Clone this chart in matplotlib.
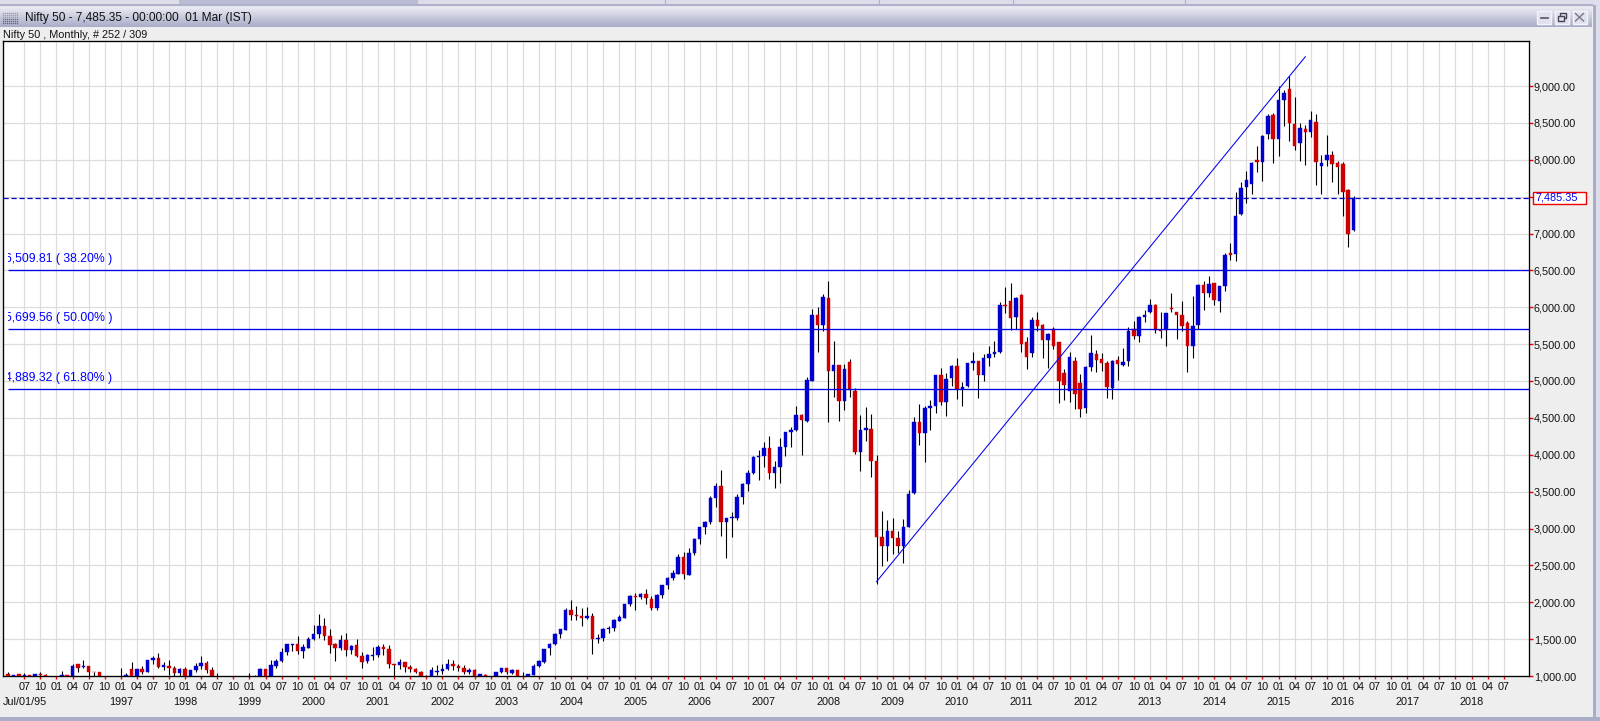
"""Nifty 50 monthly candles with fibonacci levels and a trend line"""

import numpy as np
import matplotlib
matplotlib.use("Agg")
import matplotlib.pyplot as plt
from matplotlib.patches import Rectangle
from matplotlib.transforms import Bbox

W, H = 1600, 721

# Apr 1995 .. Mar 2016, one value per month. values under 1000 fall off the axis
opens = [
    1021, 985, 1021, 980, 1007, 985, 1030, 1016, 960,
    950, 985, 1007, 1003, 1156, 1116, 1129, 1057, 1048, 975, 960, 945,
    970, 985, 1089, 985, 1089, 1061, 1211, 1238, 1116, 1129, 1107, 1034,
    1089, 985, 1075, 1129, 1170, 1075, 985, 950, 900, 870, 900, 920,
    960, 980, 985, 1089, 985, 1138, 1197, 1319, 1423, 1428, 1333, 1382,
    1495, 1563, 1672, 1536, 1428, 1382, 1482, 1346, 1414, 1274, 1197, 1269,
    1278, 1387, 1360, 1161, 1143, 1184, 1116, 1089, 1061, 930, 985, 1061,
    1070, 1089, 1156, 1138, 1102, 1048, 1075, 985, 1016, 985, 985, 1052,
    1102, 1043, 1075, 950, 985, 1016, 1138, 1188, 1378, 1428, 1563, 1627,
    1889, 1821, 1807, 1780, 1807, 1495, 1522, 1640, 1645, 1749, 1789, 1970,
    2088, 2065, 2115, 2047, 1916, 2092, 2228, 2323, 2386, 2607, 2372, 2662,
    2851, 3014, 3082, 3407, 3570, 3082, 3136, 3136, 3421, 3597, 3746, 3963,
    3977, 4085, 3746, 3828, 4099, 4302, 4330, 4533, 4463, 5006, 5901, 5765,
    6127, 5141, 5223, 4734, 5263, 4870, 4043, 4341, 4355, 3921, 2890, 2768,
    2972, 2877, 2768, 3026, 3487, 4450, 4300, 4639, 4667, 5087, 4721, 5046,
    5209, 4897, 4933, 5250, 5277, 5087, 5317, 5372, 5399, 6036, 6090, 5873,
    6172, 5534, 5385, 5833, 5765, 5562, 5711, 5534, 5114, 4870, 5277, 4978,
    4639, 5195, 5372, 5304, 5250, 4911, 5290, 5223, 5277, 5711, 5616, 5873,
    5941, 6036, 5697, 5697, 5991, 5941, 5895, 5791, 5471, 5764, 6306, 6189,
    6333, 6080, 6284, 6740, 6726, 7269, 7635, 7676, 8001, 7974, 8354, 8611,
    8286, 8815, 8964, 8489, 8232, 8421, 8381, 8516, 7920, 8001, 8069, 7960,
    7947, 7594, 7052,
]
highs = [
    1057, 1012, 1030, 1043, 1016, 1030, 1057, 1021, 985,
    990, 1070, 1016, 1165, 1161, 1211, 1138, 1061, 1052, 990, 985, 985,
    1102, 1034, 1184, 1098, 1138, 1215, 1265, 1306, 1184, 1211, 1134, 1111,
    1116, 1080, 1175, 1265, 1206, 1116, 1034, 985, 960, 950, 980, 985,
    1034, 1007, 1111, 1098, 1211, 1233, 1373, 1437, 1437, 1536, 1428, 1527,
    1685, 1834, 1780, 1640, 1450, 1550, 1577, 1414, 1495, 1319, 1292, 1387,
    1414, 1437, 1414, 1165, 1224, 1184, 1143, 1107, 1070, 1007, 1116, 1143,
    1156, 1224, 1211, 1165, 1143, 1111, 1098, 1021, 1030, 990, 1061, 1111,
    1111, 1098, 1084, 1052, 1021, 1156, 1215, 1369, 1441, 1586, 1640, 1925,
    2024, 1943, 1916, 1929, 1848, 1572, 1649, 1681, 1767, 1830, 1975, 2092,
    2128, 2119, 2183, 2088, 2106, 2237, 2336, 2431, 2648, 2675, 2729, 2865,
    3019, 3096, 3435, 3611, 3787, 3136, 3218, 3462, 3611, 3787, 3977, 4058,
    4167, 4248, 3909, 4221, 4302, 4370, 4655, 4546, 5055, 5977, 6009, 6185,
    6362, 5548, 5223, 5236, 5304, 4911, 4545, 4653, 4558, 4002, 3243, 3121,
    3148, 2972, 3134, 3528, 4517, 4694, 4667, 4748, 5087, 5182, 5105, 5223,
    5317, 4992, 5250, 5399, 5277, 5372, 5480, 5548, 6077, 6280, 6335, 6145,
    6185, 5602, 5873, 5941, 5779, 5656, 5738, 5534, 5168, 5399, 5331, 5101,
    5209, 5629, 5426, 5385, 5277, 5286, 5345, 5453, 5738, 5819, 5887, 5968,
    6118, 6050, 5941, 5928, 6199, 5941, 6085, 5809, 6157, 6315, 6360, 6428,
    6333, 6293, 6736, 6875, 7563, 7703, 7852, 7974, 8191, 8336, 8620, 8638,
    9000, 8950, 9140, 8855, 8498, 8476, 8665, 8625, 8069, 8340, 8123, 7988,
    7974, 7608, 7513,
]
lows = [
    970, 960, 970, 960, 965, 965, 985, 960, 930,
    920, 960, 965, 985, 1052, 1102, 990, 990, 975, 940, 925, 900,
    940, 970, 960, 980, 1021, 1052, 1161, 1107, 1080, 1016, 990, 990,
    960, 970, 1052, 1098, 1039, 970, 920, 880, 850, 840, 870, 880,
    900, 930, 960, 970, 970, 1107, 1184, 1278, 1333, 1292, 1238, 1373,
    1482, 1522, 1482, 1306, 1197, 1351, 1265, 1297, 1251, 1102, 1179, 1211,
    1260, 1278, 1102, 990, 1089, 1061, 1052, 1043, 900, 860, 960, 1007,
    1030, 1080, 1084, 1066, 1021, 1030, 950, 950, 940, 930, 950, 1034,
    1021, 1030, 960, 920, 970, 1007, 1120, 1170, 1278, 1414, 1514, 1618,
    1753, 1762, 1672, 1771, 1292, 1446, 1473, 1581, 1613, 1740, 1780, 1943,
    1889, 2038, 1970, 1889, 1889, 2051, 2173, 2296, 2377, 2309, 2363, 2634,
    2784, 2919, 3055, 3285, 2892, 2594, 2879, 3109, 3326, 3502, 3733, 3652,
    3828, 3665, 3543, 3611, 3977, 4099, 4316, 3990, 4441, 4997, 5390, 5675,
    4441, 4789, 4463, 4612, 4789, 4016, 3785, 4192, 3704, 2253, 2497, 2565,
    2660, 2673, 2538, 3026, 3473, 4138, 3907, 4341, 4572, 4680, 4531, 4938,
    4762, 4667, 4924, 5155, 4775, 4997, 5209, 5331, 5385, 5928, 5693, 5711,
    5399, 5168, 5331, 5684, 5317, 5182, 5440, 4707, 4748, 4721, 4626, 4517,
    4572, 5137, 5128, 5141, 4775, 4761, 5019, 5209, 5209, 5575, 5534, 5806,
    5928, 5656, 5589, 5480, 5932, 5575, 5673, 5118, 5318, 5705, 5967, 6134,
    6030, 5931, 6216, 6645, 6632, 7246, 7418, 7540, 7838, 7716, 8286, 7960,
    8055, 8462, 8259, 8137, 7988, 7933, 8313, 7662, 7540, 7920, 7703, 7540,
    7242, 6821, 7038,
]
closes = [
    985, 1007, 985, 1007, 985, 1021, 1007, 985, 950,
    930, 1007, 985, 1129, 1102, 1129, 1061, 1048, 985, 960, 945, 930,
    985, 1007, 985, 1089, 1057, 1211, 1238, 1116, 1147, 1102, 1034, 1089,
    985, 1075, 1129, 1170, 1075, 985, 950, 900, 870, 900, 920, 900,
    980, 985, 1089, 985, 1143, 1197, 1319, 1428, 1432, 1333, 1387, 1495,
    1563, 1672, 1541, 1414, 1382, 1482, 1346, 1405, 1274, 1184, 1278, 1278,
    1387, 1360, 1161, 1143, 1184, 1120, 1089, 1061, 985, 960, 1075, 1070,
    1093, 1156, 1138, 1107, 1048, 1075, 985, 1021, 985, 960, 1057, 1102,
    1048, 1080, 985, 970, 1021, 1138, 1197, 1369, 1428, 1563, 1631, 1889,
    1821, 1807, 1780, 1807, 1495, 1522, 1640, 1649, 1753, 1794, 1970, 2088,
    2065, 2115, 2051, 1916, 2092, 2228, 2323, 2390, 2607, 2377, 2662, 2851,
    3014, 3082, 3407, 3570, 3082, 3136, 3150, 3421, 3597, 3746, 3963, 3977,
    4085, 3746, 3828, 4099, 4302, 4330, 4533, 4465, 5019, 5901, 5765, 6145,
    5141, 5223, 4734, 5168, 4879, 4043, 4341, 4368, 3921, 2890, 2768, 2972,
    2877, 2768, 3026, 3473, 4450, 4300, 4639, 4667, 5087, 4721, 5033, 5209,
    4897, 4924, 5250, 5277, 5087, 5317, 5372, 5399, 6036, 6023, 5860, 6131,
    5507, 5331, 5833, 5751, 5562, 5643, 5480, 5006, 4951, 5331, 4829, 4626,
    5195, 5385, 5290, 5250, 4924, 5277, 5236, 5263, 5684, 5616, 5873, 5901,
    6036, 5697, 5675, 5928, 5982, 5901, 5750, 5471, 5750, 6306, 6189, 6320,
    6098, 6293, 6713, 6713, 7242, 7621, 7730, 7960, 7974, 8327, 8598, 8286,
    8815, 8910, 8503, 8191, 8435, 8381, 8543, 7974, 7960, 8069, 7947, 7906,
    7567, 6998, 7485.35,
]
first_month = -3  # months counted from Jul 1995

fib_levels = [6509.81, 5699.56, 4889.32]
fib_labels = ["6,509.81 ( 38.20% )", "5,699.56 ( 50.00% )", "4,889.32 ( 61.80% )"]

trend_months = [159, 239]
trend_prices = [2279, 9397]

last_price = 7485.35

price_ticks = list(range(1000, 9500, 500))
month_tick_labels = ["07", "10", "01", "04"] * 23 + ["07"]
year_labels = ["1997", "1998", "1999", "2000", "2001", "2002", "2003", "2004", "2005", "2006",
               "2007", "2008", "2009", "2010", "2011", "2012", "2013", "2014", "2015", "2016",
               "2017", "2018"]

BLUE = "#0000cc"
RED = "#cc0000"
FIB = "#0000e6"

fig = plt.figure(figsize=(W / 100, H / 100), dpi=100, facecolor="#eeeeee")
plt.rcParams["font.family"] = ["Liberation Sans", "DejaVu Sans"]

# window chrome, drawn in pixels
bg = fig.add_axes([0, 0, 1, 1], zorder=0)
bg.set_xlim(0, W)
bg.set_ylim(H, 0)
bg.axis("off")
bg.add_patch(Rectangle((0, 0), W, 4, fc="#dcdde9", ec="none"))
bg.add_patch(Rectangle((179, 0), 239, 4, fc="#b8bbd2", ec="none"))
for sep in [665, 879, 1013, 1185]:
    bg.plot([sep, sep], [0, 4], color="#aeb1ca", lw=0.8)
bg.add_patch(Rectangle((0, 4), W, 2, fc="#aeb1ca", ec="none"))
bg.add_patch(Rectangle((0, 6), W, 1, fc="#e4e5f0", ec="none"))
bg.add_patch(Rectangle((1593, 0), 7, H, fc="#dcdeec", ec="none"))
bg.add_patch(Rectangle((1593, 5), 3, H - 5, fc="#a9adc8", ec="none"))
bg.add_patch(Rectangle((0, 717), W, 4, fc="#a9adc8", ec="none"))
shade = np.linspace(0, 1, 20).reshape(-1, 1)
bg.imshow(shade, extent=[0, 1592, 27, 7], aspect="auto", zorder=1,
          cmap=matplotlib.colors.LinearSegmentedColormap.from_list("bar", ["#e9eaf2", "#a9adc8"]))
bg.set_xlim(0, W)
bg.set_ylim(H, 0)
for bx in [1537, 1554.5, 1572.5]:
    bg.add_patch(Rectangle((bx, 11), 14, 12.5, fc="#dfe1ec", ec="#f4f4f8", lw=1, zorder=2))
bg.plot([1541, 1548], [17.5, 17.5], color="#555566", lw=1.2, zorder=3)
bg.add_patch(Rectangle((1560, 13), 6, 5, fc="none", ec="#444455", lw=1, zorder=3))
bg.add_patch(Rectangle((1557.5, 16), 6, 5, fc="#dfe1ec", ec="#444455", lw=1, zorder=3))
bg.plot([1575.5, 1583.5], [13.5, 21], color="#777788", lw=1, zorder=3)
bg.plot([1575.5, 1583.5], [21, 13.5], color="#777788", lw=1, zorder=3)
for ix in range(3, 18, 2):
    for k in range(6):
        bg.plot(ix, 23 - k * 2, "s", ms=0.9, color="#666677" if k < 3 else "#9a9aac", mew=0, zorder=3)
bg.text(24.6, 18.2, "Nifty 50 - 7,485.35 - 00:00:00  01 Mar (IST)", fontsize=8.6, color="#111111",
        va="center", ha="left", zorder=4)
bg.text(3, 34.5, "Nifty 50 , Monthly, # 252 / 309", fontsize=7.8, color="#111111", va="center", ha="left")

# chart
AX_L, AX_R, AX_T, AX_B = 2.5, 1529.0, 41.0, 676.0
PX_MONTH = 5.36
PX_PRICE = 0.07375
ax = fig.add_axes([AX_L / W, 1 - AX_B / H, (AX_R - AX_L) / W, (AX_B - AX_T) / H], zorder=2)
ax.set_facecolor("white")
ax.set_xlim((AX_L - 24.3) / PX_MONTH, (AX_R - 24.3) / PX_MONTH)
ax.set_ylim(1000, 1000 + (AX_B - AX_T) / PX_PRICE)

months = first_month + np.arange(len(closes))
opens = np.array(opens, dtype=float)
highs = np.array(highs, dtype=float)
lows = np.array(lows, dtype=float)
closes = np.array(closes, dtype=float)

month_ticks = np.arange(len(month_tick_labels)) * 3
ax.set_xticks(month_ticks)
ax.set_xticklabels(month_tick_labels)
ax.set_yticks(price_ticks)
# 7,500 sits behind the last price box in the original
ax.set_yticklabels([f"{p:,.2f}" if p != 7500 else "" for p in price_ticks])
ax.yaxis.tick_right()
ax.tick_params(axis="x", length=2.2, width=1, color="#ee0000", labelsize=7.8, pad=1.8, labelcolor="#111111")
ax.tick_params(axis="y", length=3, width=1, color="#ee0000", labelsize=7.8, pad=0.5, labelcolor="#111111")
ax.grid(True, color="#dcdcdc", lw=0.85, zorder=0)
ax.set_axisbelow(True)
for side in ax.spines.values():
    side.set_linewidth(0.95)
    side.set_color("black")

ax.vlines(months, lows, highs, color="black", lw=0.8, zorder=3)
up = closes >= opens
body_low = np.minimum(opens, closes)
body_h = np.abs(closes - opens)
ax.bar(months[up], body_h[up], bottom=body_low[up], width=0.65, color=BLUE, edgecolor=BLUE, lw=0.3, zorder=4)
ax.bar(months[~up], body_h[~up], bottom=body_low[~up], width=0.65, color=RED, edgecolor=RED, lw=0.3, zorder=4)

left_edge = (8 - 24.3) / PX_MONTH
for level, label in zip(fib_levels, fib_labels):
    ax.hlines(level, left_edge, ax.get_xlim()[1], color=FIB, lw=0.95, zorder=5)
    t = ax.text((5 - AX_L) / (AX_R - AX_L), level + 11 / PX_PRICE, label, color="#0000ff", fontsize=8.8,
                va="center", ha="left", zorder=6, transform=ax.get_yaxis_transform())
    t.set_clip_on(True)
    t.set_clip_box(Bbox([[8, 0], [400, H]]))

ax.plot(trend_months, trend_prices, color="#0000ee", lw=0.75, zorder=5)
ax.axhline(last_price, color=BLUE, lw=0.9, dashes=(4.2, 2.2), zorder=5)

# last price box on the right axis
bg.add_patch(Rectangle((1532.5, 191.5), 53, 12, fc="white", ec="#ee0000", lw=1, zorder=3))
ax.annotate(f"{last_price:,.2f}", xy=(1, last_price), xycoords=ax.get_yaxis_transform(),
            xytext=(6, 0.5), textcoords="offset pixels", va="center", ha="left",
            fontsize=7.8, color="#0000ee", zorder=7, annotation_clip=False)

# year row under the month row
for k, label in enumerate(year_labels):
    month_jan = 18 + 12 * k
    ax.annotate(label, xy=(month_jan, 0), xycoords=ax.get_xaxis_transform(), xytext=(0, -26),
                textcoords="offset pixels", ha="center", va="center", fontsize=7.8, color="#111111",
                annotation_clip=False)
bg.text(3, 702, "Jul/01/95", fontsize=7.8, color="#111111", va="center", ha="left")

fig.savefig("out.png", dpi=100, facecolor=fig.get_facecolor())
